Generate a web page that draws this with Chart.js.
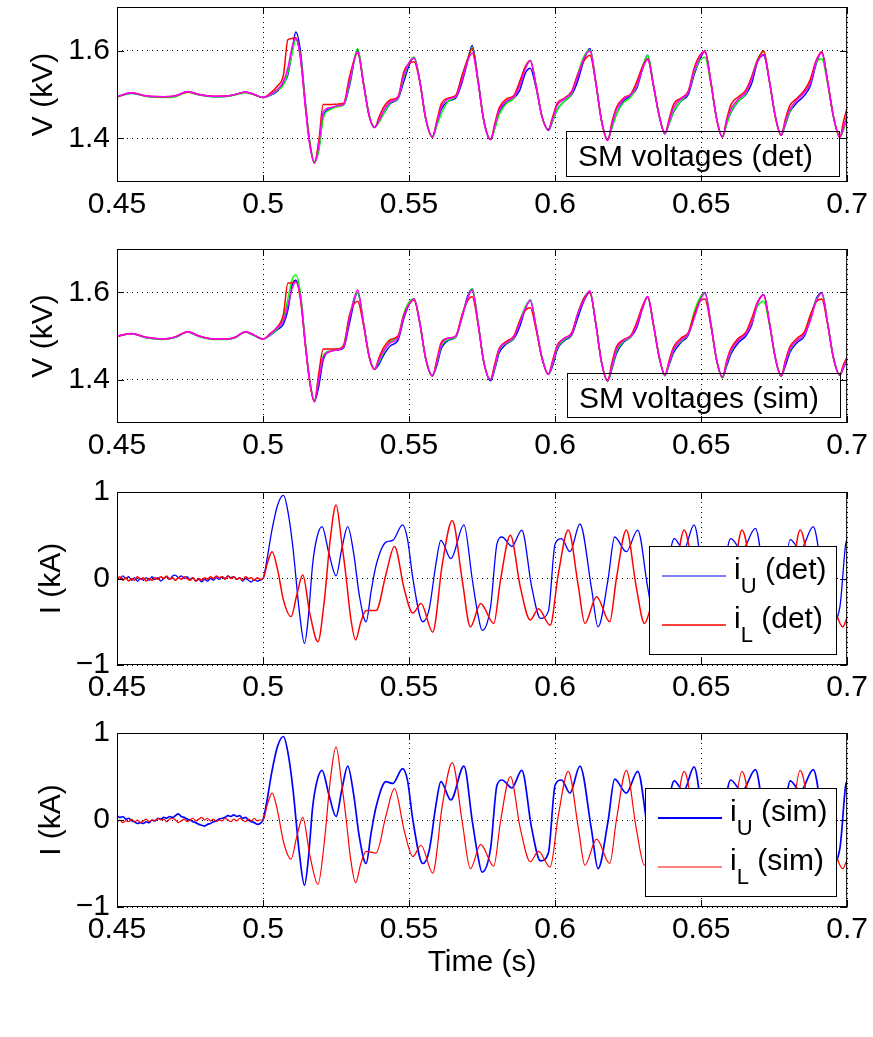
<!DOCTYPE html>
<html>
<head>
<meta charset="utf-8">
<title>SM voltages and arm currents</title>
<script src="https://cdn.jsdelivr.net/npm/chart.js@4.4.0/dist/chart.umd.min.js"></script>
<style>
  body { margin: 0; background: #fff; }
  #wrap { position: relative; width: 873px; height: 1037px; overflow: hidden; }
  canvas { position: absolute; left: 0; }
</style>
</head>
<body>
<div id="wrap">
  <canvas id="c1" width="873" height="260" style="top:-18px"></canvas>
  <canvas id="c2" width="873" height="259" style="top:224px"></canvas>
  <canvas id="c3" width="873" height="258" style="top:467px"></canvas>
  <canvas id="c4" width="873" height="284" style="top:708px"></canvas>
</div>
<script>
// tick positions
const xTicks = [0.45, 0.5, 0.55, 0.6, 0.65, 0.7];
const vTicks = [1.4, 1.6];
const iTicks = [-1, 0, 1];

// sample times for the SM voltage traces (s)
const tV = [
  0.450,0.455,0.460,0.466,0.470,0.4742,0.478,0.483,0.488,0.4905,0.494,0.497,
  0.500,0.5025,0.505,0.507,0.5085,0.510,0.5112,0.5128,0.5145,0.516,
  0.5176,0.5191,0.5206,0.5231,0.5256,0.5276,0.5296,0.5324,0.5344,0.5364,
  0.5382,0.5397,0.5412,0.5437,0.5462,0.5482,0.5502,0.5517,0.5537,0.5557,
  0.5580,0.5595,0.5610,0.5635,0.5660,0.5680,0.5700,0.5716,0.5736,0.5756,
  0.5779,0.5794,0.5809,0.5834,0.5859,0.5879,0.5899,0.5915,0.5935,0.5955,
  0.5977,0.5992,0.6007,0.6032,0.6057,0.6077,0.6097,0.6119,0.6139,0.6159,
  0.6180,0.6195,0.6210,0.6235,0.6260,0.6280,0.6300,0.6317,0.6337,0.6357,
  0.6376,0.6391,0.6406,0.6431,0.6456,0.6476,0.6496,0.6513,0.6533,0.6553,
  0.6573,0.6588,0.6603,0.6628,0.6653,0.6673,0.6693,0.6714,0.6734,0.6754,
  0.6774,0.6789,0.6804,0.6829,0.6854,0.6874,0.6894,0.6913,0.6933,0.6953,
  0.6975,0.6988,0.7000
];

// SM voltages (det), kV
const vDetB = [
  1.495,1.503,1.496,1.494,1.496,1.506,1.500,1.495,1.496,1.500,1.505,1.500,
  1.493,1.498,1.508,1.525,1.545,1.600,1.643,1.600,1.480,1.390,
  1.345,1.375,1.450,1.468,1.474,1.476,1.520,1.602,1.525,1.450,
  1.425,1.438,1.455,1.480,1.490,1.530,1.570,1.585,1.530,1.445,
  1.403,1.430,1.465,1.485,1.492,1.525,1.575,1.612,1.535,1.440,
  1.397,1.425,1.460,1.482,1.492,1.510,1.550,1.560,1.515,1.450,
  1.418,1.440,1.465,1.485,1.500,1.530,1.575,1.605,1.530,1.440,
  1.397,1.425,1.455,1.485,1.498,1.515,1.560,1.590,1.520,1.450,
  1.410,1.435,1.460,1.485,1.500,1.545,1.580,1.600,1.530,1.445,
  1.403,1.435,1.460,1.485,1.500,1.525,1.575,1.590,1.530,1.450,
  1.407,1.432,1.460,1.482,1.498,1.520,1.570,1.598,1.530,1.450,
  1.403,1.422,1.452
];
const vDetG = [
  1.494,1.503,1.496,1.493,1.495,1.505,1.499,1.495,1.496,1.499,1.504,1.499,
  1.493,1.499,1.510,1.522,1.550,1.595,1.625,1.590,1.480,1.392,
  1.347,1.372,1.445,1.466,1.472,1.476,1.525,1.605,1.528,1.452,
  1.426,1.436,1.455,1.482,1.492,1.540,1.575,1.585,1.530,1.445,
  1.405,1.428,1.455,1.485,1.495,1.540,1.580,1.607,1.532,1.440,
  1.398,1.422,1.455,1.480,1.492,1.525,1.565,1.578,1.520,1.450,
  1.420,1.440,1.465,1.485,1.502,1.545,1.585,1.602,1.530,1.440,
  1.397,1.425,1.455,1.482,1.495,1.520,1.565,1.590,1.520,1.450,
  1.411,1.435,1.462,1.485,1.505,1.550,1.578,1.585,1.525,1.445,
  1.404,1.432,1.462,1.485,1.502,1.540,1.580,1.598,1.530,1.450,
  1.407,1.435,1.462,1.490,1.508,1.530,1.572,1.582,1.525,1.450,
  1.404,1.420,1.450
];
const vDetR = [
  1.495,1.504,1.497,1.495,1.497,1.506,1.500,1.496,1.497,1.500,1.506,1.500,
  1.493,1.503,1.520,1.545,1.625,1.628,1.630,1.585,1.475,1.388,
  1.344,1.395,1.477,1.477,1.478,1.480,1.540,1.595,1.525,1.450,
  1.424,1.448,1.470,1.488,1.495,1.552,1.572,1.575,1.528,1.445,
  1.403,1.440,1.478,1.492,1.498,1.540,1.580,1.605,1.530,1.440,
  1.397,1.435,1.470,1.490,1.498,1.530,1.565,1.578,1.520,1.450,
  1.420,1.450,1.480,1.492,1.508,1.545,1.575,1.590,1.528,1.440,
  1.395,1.438,1.470,1.492,1.502,1.530,1.565,1.582,1.520,1.450,
  1.411,1.445,1.478,1.492,1.508,1.560,1.590,1.598,1.530,1.445,
  1.403,1.445,1.478,1.495,1.510,1.540,1.578,1.600,1.530,1.450,
  1.407,1.445,1.475,1.492,1.510,1.535,1.578,1.598,1.530,1.450,
  1.402,1.440,1.470
];
const vDetM = [
  1.495,1.504,1.497,1.495,1.497,1.507,1.500,1.496,1.497,1.500,1.506,1.500,
  1.493,1.500,1.512,1.530,1.560,1.610,1.628,1.585,1.470,1.385,
  1.343,1.385,1.460,1.470,1.474,1.478,1.530,1.598,1.525,1.450,
  1.425,1.440,1.462,1.484,1.493,1.545,1.575,1.583,1.530,1.445,
  1.403,1.435,1.470,1.490,1.495,1.530,1.575,1.595,1.530,1.440,
  1.397,1.430,1.465,1.485,1.495,1.520,1.560,1.578,1.520,1.450,
  1.420,1.445,1.475,1.490,1.505,1.540,1.580,1.600,1.530,1.440,
  1.395,1.432,1.465,1.490,1.500,1.520,1.560,1.580,1.520,1.450,
  1.411,1.440,1.470,1.490,1.505,1.555,1.585,1.600,1.530,1.445,
  1.403,1.440,1.468,1.490,1.505,1.535,1.575,1.592,1.530,1.450,
  1.407,1.440,1.466,1.488,1.505,1.525,1.575,1.595,1.530,1.450,
  1.403,1.425,1.455
];

// SM voltages (sim), kV
const vSimB = [
  1.500,1.505,1.496,1.493,1.497,1.509,1.500,1.493,1.493,1.497,1.509,1.501,
  1.493,1.502,1.515,1.528,1.560,1.618,1.628,1.592,1.482,1.397,
  1.350,1.385,1.445,1.465,1.468,1.473,1.530,1.600,1.530,1.452,
  1.424,1.435,1.455,1.478,1.490,1.540,1.575,1.585,1.530,1.448,
  1.410,1.432,1.470,1.490,1.497,1.540,1.590,1.608,1.532,1.440,
  1.397,1.425,1.462,1.482,1.494,1.522,1.565,1.583,1.520,1.450,
  1.412,1.432,1.468,1.490,1.502,1.540,1.578,1.600,1.530,1.440,
  1.397,1.425,1.460,1.486,1.498,1.520,1.565,1.590,1.525,1.450,
  1.410,1.435,1.462,1.485,1.502,1.545,1.585,1.600,1.530,1.445,
  1.405,1.432,1.460,1.485,1.500,1.525,1.575,1.595,1.530,1.450,
  1.408,1.432,1.462,1.485,1.500,1.540,1.585,1.600,1.530,1.450,
  1.410,1.428,1.445
];
const vSimG = [
  1.499,1.505,1.496,1.492,1.497,1.509,1.499,1.492,1.492,1.496,1.509,1.501,
  1.493,1.503,1.518,1.540,1.585,1.630,1.640,1.600,1.485,1.398,
  1.352,1.405,1.455,1.466,1.470,1.480,1.545,1.600,1.530,1.452,
  1.425,1.440,1.462,1.488,1.498,1.552,1.580,1.585,1.530,1.448,
  1.408,1.438,1.476,1.492,1.498,1.545,1.585,1.609,1.532,1.440,
  1.400,1.430,1.468,1.484,1.496,1.535,1.568,1.582,1.520,1.450,
  1.412,1.438,1.472,1.492,1.505,1.550,1.585,1.603,1.530,1.440,
  1.395,1.428,1.465,1.488,1.498,1.530,1.568,1.588,1.525,1.450,
  1.408,1.438,1.468,1.488,1.505,1.555,1.588,1.598,1.530,1.445,
  1.403,1.438,1.465,1.492,1.505,1.530,1.568,1.580,1.525,1.450,
  1.408,1.440,1.468,1.490,1.505,1.545,1.582,1.598,1.530,1.450,
  1.412,1.432,1.448
];
const vSimR = [
  1.499,1.506,1.497,1.493,1.498,1.510,1.500,1.493,1.493,1.497,1.510,1.502,
  1.493,1.506,1.522,1.550,1.622,1.622,1.625,1.585,1.478,1.393,
  1.349,1.415,1.470,1.470,1.470,1.478,1.548,1.580,1.525,1.450,
  1.423,1.450,1.472,1.492,1.500,1.548,1.575,1.582,1.528,1.448,
  1.408,1.445,1.485,1.495,1.500,1.545,1.580,1.590,1.528,1.440,
  1.400,1.438,1.472,1.488,1.500,1.535,1.560,1.565,1.515,1.450,
  1.412,1.445,1.478,1.495,1.508,1.550,1.585,1.600,1.530,1.440,
  1.397,1.440,1.475,1.492,1.502,1.532,1.570,1.590,1.525,1.450,
  1.410,1.445,1.475,1.495,1.508,1.548,1.580,1.585,1.525,1.445,
  1.405,1.445,1.472,1.495,1.508,1.540,1.578,1.594,1.530,1.450,
  1.408,1.445,1.475,1.495,1.510,1.548,1.578,1.585,1.528,1.450,
  1.410,1.435,1.452
];
const vSimM = [
  1.500,1.506,1.497,1.493,1.498,1.510,1.500,1.493,1.493,1.497,1.510,1.502,
  1.493,1.505,1.520,1.535,1.570,1.610,1.625,1.590,1.480,1.395,
  1.349,1.400,1.450,1.465,1.468,1.475,1.540,1.606,1.530,1.452,
  1.424,1.445,1.465,1.485,1.495,1.545,1.575,1.585,1.530,1.448,
  1.408,1.440,1.480,1.495,1.500,1.540,1.585,1.606,1.530,1.440,
  1.400,1.432,1.470,1.485,1.498,1.530,1.565,1.581,1.520,1.450,
  1.412,1.440,1.475,1.495,1.505,1.550,1.580,1.604,1.530,1.440,
  1.397,1.432,1.470,1.490,1.500,1.525,1.565,1.591,1.525,1.450,
  1.410,1.440,1.470,1.490,1.505,1.540,1.580,1.598,1.530,1.445,
  1.405,1.440,1.468,1.490,1.505,1.530,1.575,1.594,1.530,1.450,
  1.408,1.440,1.470,1.490,1.505,1.535,1.580,1.598,1.530,1.450,
  1.410,1.430,1.447
];

// arm currents before the step (s, kA)
const tPre = [
  0.450,0.451,0.452,0.453,0.454,0.455,0.456,0.457,0.458,0.459,
  0.460,0.461,0.462,0.463,0.464,0.465,0.466,0.467,0.468,0.469,
  0.470,0.471,0.472,0.473,0.474,0.475,0.476,0.477,0.478,0.479,
  0.480,0.481,0.482,0.483,0.484,0.485,0.486,0.487,0.488,0.489,
  0.490,0.491,0.492,0.493,0.494,0.495,0.496,0.497,0.498,0.499
];
const iUdetPre = [
  0.02,-0.01,0.03,0.00,0.02,-0.02,0.01,-0.03,0.00,-0.02,
  0.01,-0.02,0.02,-0.01,0.01,-0.03,0.00,0.02,-0.01,0.03,
  0.04,0.01,0.03,0.00,0.02,-0.01,0.01,-0.03,-0.01,-0.04,
  -0.01,-0.03,0.00,-0.02,0.01,-0.01,0.02,0.00,0.03,0.01,
  0.02,-0.01,0.01,-0.03,0.00,-0.02,-0.04,-0.01,-0.03,-0.02
];
const iLdetPre = [
  -0.01,0.02,-0.02,0.01,-0.03,0.00,-0.02,0.02,-0.01,0.01,
  -0.03,0.00,-0.02,0.01,-0.01,0.02,0.00,0.03,-0.01,0.01,
  -0.02,0.01,-0.01,0.02,0.00,-0.02,0.01,-0.03,0.00,-0.02,
  0.01,-0.01,0.02,0.00,0.03,0.01,0.02,-0.01,0.03,0.00,
  0.02,-0.01,0.01,-0.02,0.02,0.00,0.01,-0.02,0.01,-0.01
];
const iUsimPre = [
  0.05,0.03,0.04,0.01,0.02,-0.01,-0.02,-0.04,-0.03,-0.04,
  -0.02,-0.03,0.00,-0.01,0.02,0.01,0.03,0.02,0.04,0.03,
  0.05,0.07,0.04,0.03,0.01,0.00,-0.02,-0.03,-0.05,-0.06,
  -0.07,-0.05,-0.04,-0.02,-0.01,0.01,0.02,0.03,0.05,0.04,
  0.06,0.04,0.05,0.02,0.03,0.00,-0.02,-0.03,-0.05,-0.04
];
const iLsimPre = [
  -0.02,0.00,-0.03,-0.01,-0.02,0.01,-0.02,0.00,-0.03,-0.01,
  0.01,-0.02,0.00,-0.01,0.02,0.00,0.01,-0.02,0.01,0.02,
  0.00,-0.03,-0.01,0.01,-0.02,0.00,0.02,-0.01,0.01,0.03,
  0.00,0.02,-0.01,0.01,-0.02,0.00,-0.01,0.02,0.00,-0.02,
  0.01,-0.01,0.02,0.00,-0.02,0.01,-0.01,0.02,-0.01,0.00
];

// upper arm current after the step
const tU = [
  0.500,0.5015,0.503,0.505,0.507,0.5085,0.5102,0.5125,0.5142,0.5155,
  0.517,0.5185,0.5202,0.5225,0.525,0.527,0.529,0.531,0.533,0.5353,
  0.537,0.5387,0.5421,0.5444,0.5478,0.5495,0.5513,0.5547,0.5569,0.5592,
  0.5609,0.5643,0.5688,0.5716,0.5735,0.575,0.5779,0.5801,0.5818,0.5852,
  0.5886,0.592,0.595,0.5977,0.600,0.6022,0.6051,0.6085,0.6125,0.6147,
  0.6181,0.6204,0.6244,0.6283,0.6317,0.6345,0.6375,0.6408,0.644,0.6476,
  0.651,0.654,0.657,0.6601,0.664,0.6686,0.672,0.675,0.678,0.6805,
  0.684,0.6884,0.692,0.6945,0.6975,0.6995,0.700
];
const iUdet = [
  0.00,0.25,0.55,0.85,0.96,0.78,0.37,-0.40,-0.75,-0.45,
  0.17,0.48,0.60,0.30,0.03,0.35,0.60,0.30,-0.20,-0.50,
  -0.15,0.15,0.42,0.44,0.62,0.45,0.00,-0.50,-0.35,0.17,
  0.44,0.23,0.62,0.00,-0.40,-0.60,-0.33,0.40,0.48,0.37,
  0.56,-0.10,-0.46,-0.38,0.40,0.46,0.31,0.63,-0.12,-0.56,
  -0.02,0.48,0.31,0.56,-0.10,-0.55,-0.10,0.46,0.33,0.62,
  -0.10,-0.55,-0.10,0.46,0.33,0.58,-0.10,-0.55,-0.10,0.45,
  0.33,0.60,-0.10,-0.52,-0.33,0.40,0.45
];
const iUsim = [
  0.00,0.25,0.55,0.85,0.96,0.78,0.37,-0.40,-0.75,-0.45,
  0.15,0.45,0.57,0.30,0.04,0.35,0.62,0.30,-0.20,-0.50,
  -0.15,0.15,0.44,0.42,0.59,0.45,0.00,-0.50,-0.35,0.17,
  0.44,0.23,0.62,0.00,-0.40,-0.60,-0.33,0.40,0.46,0.37,
  0.57,-0.10,-0.47,-0.38,0.40,0.46,0.31,0.62,-0.12,-0.56,
  -0.02,0.47,0.31,0.56,-0.10,-0.55,-0.10,0.45,0.33,0.61,
  -0.10,-0.55,-0.10,0.46,0.33,0.58,-0.10,-0.55,-0.10,0.45,
  0.33,0.58,-0.10,-0.52,-0.33,0.40,0.45
];

// lower arm current after the step
const tL = [
  0.500,0.5015,0.5031,0.505,0.507,0.5096,0.5115,0.5136,0.516,0.5188,
  0.521,0.523,0.525,0.527,0.5285,0.530,0.5317,0.5335,0.5353,0.5387,
  0.5421,0.545,0.5484,0.5513,0.5541,0.5581,0.5614,0.5648,0.5682,0.571,
  0.5745,0.579,0.5813,0.5847,0.5881,0.5915,0.5943,0.5983,0.6011,0.6045,
  0.608,0.6102,0.6142,0.6187,0.621,0.6244,0.6278,0.6306,0.634,0.638,
  0.641,0.6442,0.648,0.6505,0.654,0.658,0.661,0.664,0.668,0.6705,
  0.674,0.678,0.681,0.6839,0.688,0.6905,0.694,0.6985,0.700
];
const iLdet = [
  0.00,0.18,0.31,0.10,-0.25,-0.44,-0.20,0.04,-0.40,-0.73,
  -0.25,0.45,0.85,0.40,0.00,-0.45,-0.71,-0.50,-0.37,-0.37,
  0.05,0.37,-0.13,-0.40,-0.29,-0.62,0.17,0.67,-0.02,-0.56,
  -0.29,-0.52,-0.02,0.50,-0.10,-0.48,-0.35,-0.54,0.05,0.56,
  -0.10,-0.52,-0.21,-0.50,0.00,0.56,-0.10,-0.52,-0.25,-0.52,
  0.00,0.56,-0.10,-0.52,-0.25,-0.52,0.00,0.56,-0.10,-0.52,
  -0.25,-0.52,0.00,0.56,-0.10,-0.52,-0.25,-0.56,-0.45
];
const iLsim = [
  0.00,0.18,0.31,0.10,-0.25,-0.45,-0.20,0.03,-0.40,-0.74,
  -0.25,0.45,0.84,0.40,0.00,-0.45,-0.72,-0.50,-0.36,-0.38,
  0.05,0.36,-0.13,-0.42,-0.29,-0.61,0.17,0.66,-0.02,-0.56,
  -0.28,-0.53,-0.02,0.50,-0.10,-0.48,-0.36,-0.54,0.05,0.56,
  -0.10,-0.52,-0.22,-0.50,0.00,0.57,-0.10,-0.52,-0.25,-0.52,
  0.00,0.56,-0.10,-0.52,-0.25,-0.52,0.00,0.56,-0.10,-0.52,
  -0.25,-0.52,0.00,0.57,-0.10,-0.52,-0.25,-0.56,-0.45
];

const FONT = '"Liberation Sans", Arial, Helvetica, sans-serif';
Chart.defaults.font.family = FONT;
Chart.defaults.color = '#000';

function pts(t, v) {
  return t.map((x, i) => ({ x: x, y: v[i] }));
}

function line(data, color, width) {
  return { data: data, borderColor: color, borderWidth: width, pointRadius: 0, fill: false };
}

// box, inner tick marks and the legend, MATLAB style
const boxPlugin = {
  id: 'matlabBox',
  afterDraw(chart, args, o) {
    const ctx = chart.ctx, a = chart.chartArea;
    const xs = chart.scales.x, ys = chart.scales.y;
    ctx.save();
    ctx.strokeStyle = '#000';
    ctx.lineWidth = 1;
    ctx.beginPath();
    xTicks.forEach(v => {
      const p = Math.round(xs.getPixelForValue(v)) + 0.5;
      ctx.moveTo(p, a.bottom); ctx.lineTo(p, a.bottom - 7);
      ctx.moveTo(p, a.top); ctx.lineTo(p, a.top + 7);
    });
    o.yTicks.forEach(v => {
      const p = Math.round(ys.getPixelForValue(v)) + 0.5;
      ctx.moveTo(a.left, p); ctx.lineTo(a.left + 7, p);
      ctx.moveTo(a.right, p); ctx.lineTo(a.right - 7, p);
    });
    ctx.stroke();
    ctx.strokeRect(a.left + 0.5, a.top + 0.5, a.right - a.left - 1, a.bottom - a.top - 1);

    const L = o.legend;
    const lx = Math.round(a.right - L.right - L.w), ly = Math.round(a.bottom - L.bottom - L.h);
    if (L.fill) { ctx.fillStyle = '#fff'; ctx.fillRect(lx, ly, L.w, L.h); }
    ctx.strokeStyle = '#000';
    ctx.strokeRect(lx + 0.5, ly + 0.5, L.w, L.h);
    ctx.fillStyle = '#000';
    ctx.textBaseline = 'alphabetic';
    if (L.text) {
      ctx.font = '30px ' + FONT;
      ctx.fillText(L.text, lx + 12, ly + 35);
    } else {
      L.items.forEach((it, k) => {
        const yl = ly + 30 + k * 49, yb = ly + 33 + k * 49;
        ctx.strokeStyle = it.color; ctx.lineWidth = it.width;
        ctx.beginPath(); ctx.moveTo(lx + 13, yl); ctx.lineTo(lx + 77, yl); ctx.stroke();
        let x = lx + 85;
        ctx.font = '30px ' + FONT; ctx.fillText('i', x, yb); x += ctx.measureText('i').width;
        ctx.font = '22px ' + FONT; ctx.fillText(it.sub, x, yb + 14); x += ctx.measureText(it.sub).width;
        ctx.font = '30px ' + FONT; ctx.fillText(' ' + it.tag, x, yb);
      });
    }
    ctx.restore();
  }
};

function makeChart(id, o) {
  const grid = { color: '#000', lineWidth: 1, drawTicks: false };
  const border = { display: false, dash: [1, 4] };
  return new Chart(document.getElementById(id), {
    type: 'line',
    data: { datasets: o.datasets },
    options: {
      responsive: false,
      animation: false,
      events: [],
      layout: { padding: { top: 25, right: 24, left: 0, bottom: 0 } },
      elements: { line: { cubicInterpolationMode: 'monotone' }, point: { radius: 0 } },
      plugins: {
        legend: { display: false },
        tooltip: { enabled: false },
        matlabBox: { yTicks: o.yTicks, legend: o.legend }
      },
      scales: {
        x: {
          type: 'linear', min: 0.45, max: 0.7,
          afterBuildTicks: s => { s.ticks = xTicks.map(v => ({ value: v })); },
          afterFit: s => { s.height = o.axisH; },
          ticks: { font: { size: 30 }, color: '#000', padding: 5, maxRotation: 0, autoSkip: false,
                   callback: v => String(v) },
          grid: grid, border: border,
          title: { display: !!o.xTitle, text: o.xTitle || '', font: { size: 30 }, color: '#000',
                   padding: { top: 0, bottom: 11 } }
        },
        y: {
          type: 'linear', min: o.ymin, max: o.ymax,
          afterBuildTicks: s => { s.ticks = o.yTicks.map(v => ({ value: v })); },
          afterFit: s => { s.width = 117; },
          ticks: { font: { size: 30 }, color: '#000', padding: 7,
                   callback: v => String(v).replace('-', '\u2212') },
          grid: grid, border: border,
          title: { display: true, text: o.yTitle, font: { size: 30 }, color: '#000',
                   padding: { top: o.yTitlePad, bottom: 0 } }
        }
      }
    },
    plugins: [boxPlugin]
  });
}

makeChart('c1', {
  ymin: 1.3, ymax: 1.7, yTicks: vTicks, yTitle: 'V (kV)', yTitlePad: 26, axisH: 60,
  legend: { text: 'SM voltages (det)', w: 273, h: 45, right: 8, bottom: 6 },
  datasets: [
    line(pts(tV, vDetM), '#ff00ff', 1.5),
    line(pts(tV, vDetR), '#ff0000', 1.5),
    line(pts(tV, vDetG), '#00ff00', 1.5),
    line(pts(tV, vDetB), '#0000ff', 1.5)
  ]
});

makeChart('c2', {
  ymin: 1.3, ymax: 1.7, yTicks: vTicks, yTitle: 'V (kV)', yTitlePad: 26, axisH: 60,
  legend: { text: 'SM voltages (sim)', w: 273, h: 44, right: 7, bottom: 6 },
  datasets: [
    line(pts(tV, vSimM), '#ff00ff', 1.5),
    line(pts(tV, vSimR), '#ff0000', 1.5),
    line(pts(tV, vSimG), '#00ff00', 1.5),
    line(pts(tV, vSimB), '#0000ff', 1.5)
  ]
});

makeChart('c3', {
  ymin: -1, ymax: 1, yTicks: iTicks, yTitle: 'I (kA)', yTitlePad: 34, axisH: 60,
  legend: { fill: true, w: 187, h: 108, right: 11, bottom: 11,
            items: [{ sub: 'U', tag: '(det)', color: '#0000ff', width: 1 },
                    { sub: 'L', tag: '(det)', color: '#ff0000', width: 1.6 }] },
  datasets: [
    line(pts(tPre, iLdetPre).concat(pts(tL, iLdet)), '#ff0000', 1.5),
    line(pts(tPre, iUdetPre).concat(pts(tU, iUdet)), '#0000ff', 1.3)
  ]
});

makeChart('c4', {
  ymin: -1, ymax: 1, yTicks: iTicks, yTitle: 'I (kA)', yTitlePad: 34, axisH: 85, xTitle: 'Time (s)',
  legend: { fill: true, w: 191, h: 108, right: 11, bottom: 11,
            items: [{ sub: 'U', tag: '(sim)', color: '#0000ff', width: 2.2 },
                    { sub: 'L', tag: '(sim)', color: '#ff0000', width: 1 }] },
  datasets: [
    line(pts(tPre, iLsimPre).concat(pts(tL, iLsim)), '#ff0000', 1.2),
    line(pts(tPre, iUsimPre).concat(pts(tU, iUsim)), '#0000ff', 1.7)
  ]
});
</script>
</body>
</html>
